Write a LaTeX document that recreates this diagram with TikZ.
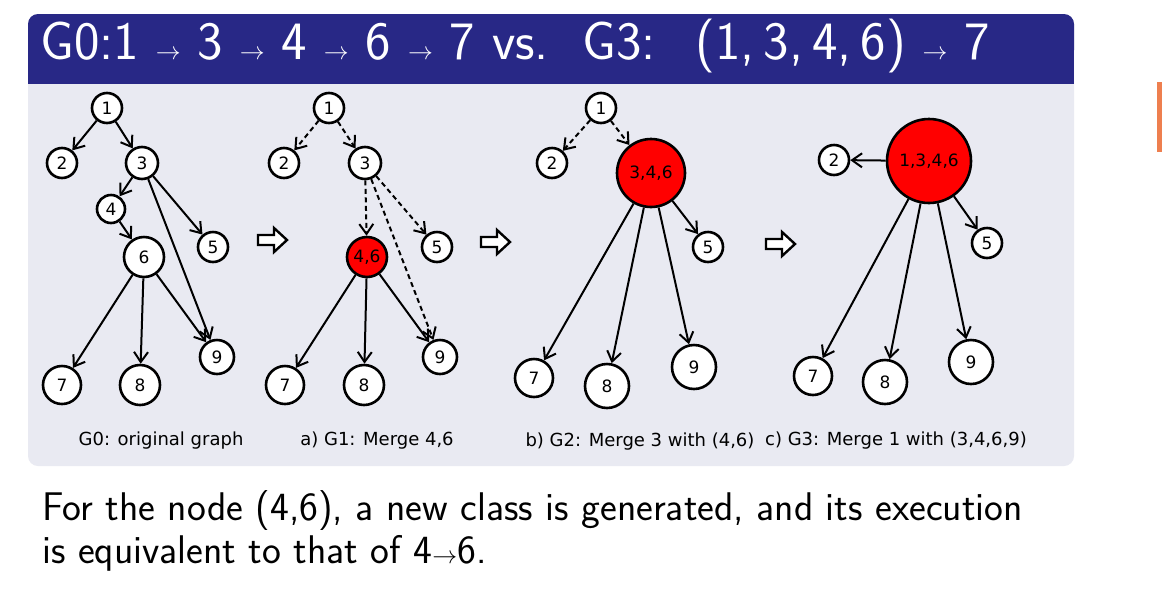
\documentclass[tikz,border=0pt]{standalone}
\usepackage{fontspec}
\newfontfamily\dvs{DejaVu Sans}
\usetikzlibrary{arrows.meta}
\definecolor{hdr}{HTML}{282886}
\definecolor{bodyc}{HTML}{E9EAF2}
\definecolor{orng}{HTML}{EE7F4F}
\tikzset{
 v/.style={circle,draw,line width=2.6pt,fill=white,inner sep=0pt,minimum size=#1pt,font=\dvs\fontsize{17}{17}\selectfont},
 r/.style={v=#1,fill=red},
 e/.style={line width=2pt,-{Straight Barb[length=10pt,width=14pt,line width=2pt]}},
 d/.style={e,dash pattern=on 5pt off 3.5pt},
 captxt/.style={font=\dvs\fontsize{18}{18}\selectfont},
 big/.style={line width=2.4pt,fill=white}
}
\begin{document}
\begin{tikzpicture}[x=1pt,y=-1pt]
\useasboundingbox (0,0) rectangle (1162,606);
\fill[white] (0,0) rectangle (1162,606);
\fill[orng] (1157,82) rectangle (1162,152);
\fill[bodyc,rounded corners=10pt] (28,14) rectangle (1074,466);
\fill[hdr,rounded corners=10pt] (28,14) rectangle (1074,60);
\fill[hdr] (28,40) rectangle (1074,84);
\node[anchor=west,text=white,font=\sffamily\fontsize{54}{54}\selectfont,inner sep=0] (title) at (40,46)
 {G0:1 $\rightarrow$ 3 $\rightarrow$ 4 $\rightarrow$ 6 $\rightarrow$ 7 vs.\ \ G3: \ (1,\,3,\,4,\,6) $\rightarrow$ 7};
% G0
\node[v=30] (a1) at (107,108) {1};
\node[v=30] (a2) at (62,163) {2};
\node[v=32] (a3) at (142,163) {3};
\node[v=28] (a4) at (111,209) {4};
\node[v=40] (a6) at (144,257) {6};
\node[v=30] (a5) at (213,247) {5};
\node[v=34] (a9) at (217,357) {9};
\node[v=38] (a7) at (62,385) {7};
\node[v=40] (a8) at (140,385) {8};
\draw[e] (a1)--(a2); \draw[e] (a1)--(a3); \draw[e] (a3)--(a4); \draw[e] (a3)--(a5);
\draw[e] (a3)--(a9); \draw[e] (a4)--(a6); \draw[e] (a6)--(a7); \draw[e] (a6)--(a8); \draw[e] (a6)--(a9);
% G1
\node[v=30] (b1) at (329,108) {1};
\node[v=30] (b2) at (284,163) {2};
\node[v=32] (b3) at (365,163) {3};
\node[r=40] (b46) at (367,257) {4,6};
\node[v=30] (b5) at (437,247) {5};
\node[v=34] (b9) at (440,357) {9};
\node[v=38] (b7) at (285,385) {7};
\node[v=40] (b8) at (364,385) {8};
\draw[d] (b1)--(b2); \draw[d] (b1)--(b3); \draw[d] (b3)--(b46); \draw[d] (b3)--(b5); \draw[d] (b3)--(b9);
\draw[e] (b46)--(b7); \draw[e] (b46)--(b8); \draw[e] (b46)--(b9);
% G2
\node[v=30] (c1) at (601,108) {1};
\node[v=30] (c2) at (552,163) {2};
\node[r=68] (c346) at (651,173) {3,4,6};
\node[v=30] (c5) at (708,247) {5};
\node[v=38] (c7) at (534,378) {7};
\node[v=44] (c8) at (607,386) {8};
\node[v=44] (c9) at (694,367) {9};
\draw[d] (c1)--(c2); \draw[d] (c1)--(c346);
\draw[e] (c346)--(c5); \draw[e] (c346)--(c7); \draw[e] (c346)--(c8); \draw[e] (c346)--(c9);
% G3
\node[v=30] (g2) at (834,160) {2};
\node[r=84] (g1346) at (929,161) {1,3,4,6};
\node[v=30] (g5) at (987,243) {5};
\node[v=38] (g7) at (813,376) {7};
\node[v=44] (g8) at (885,382) {8};
\node[v=44] (g9) at (971,362) {9};
\draw[e] (g1346)--(g2); \draw[e] (g1346)--(g5); \draw[e] (g1346)--(g7); \draw[e] (g1346)--(g8); \draw[e] (g1346)--(g9);
% transition arrows
\foreach \cx/\cy in {270/240,493/242,778/244}
 \draw[big,shift={(\cx,\cy)}] (-12,-5)--(4,-5)--(4,-12)--(17,0)--(4,12)--(4,5)--(-12,5)--cycle;
% captions
\node[captxt] (k0) at (161,441) {G0: original graph};
\node[captxt] (k1) at (377,441) {a) G1: Merge 4,6};
\node[captxt] (k2) at (640,442) {b) G2: Merge 3 with (4,6)};
\node[captxt] (k3) at (896,441) {c) G3: Merge 1 with (3,4,6,9)};
% text
\node[anchor=west,align=left,font=\sffamily\fontsize{40}{43}\selectfont,inner sep=0] (txt) at (42,531)
 {For the node (4,6), a new class is generated, and its execution\\is equivalent to that of 4$\rightarrow$6.};
\end{tikzpicture}
\end{document}
